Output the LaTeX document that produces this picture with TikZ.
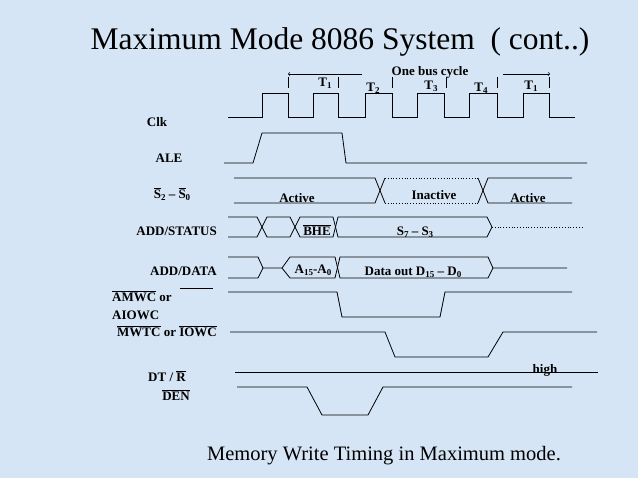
\documentclass[tikz,border=0pt]{standalone}
\usepackage{fontspec}
\setmainfont{Liberation Serif}
\definecolor{bg}{RGB}{214,229,245}
\tikzset{sig/.style={line width=0.8pt,black},
 lab/.style={font=\bfseries\fontsize{13}{14}\selectfont,inner sep=0pt},
 dots/.style={line width=0.8pt,dotted}}
\newcommand{\ovl}[1]{$\overline{\mbox{#1}}$}
\newcommand{\sub}[1]{\raisebox{-0.35ex}{\fontsize{9}{9}\selectfont #1}}
\begin{document}
\begin{tikzpicture}[x=1pt,y=-1pt]
\fill[bg] (0,0) rectangle (638,478);
\useasboundingbox (0,0) rectangle (638,478);
\node[inner sep=0pt,font=\fontsize{31.5}{33}\selectfont] (title) at (340,42) {Maximum Mode 8086 System\ \ ( cont..)};
\node[inner sep=0pt,font=\fontsize{20.5}{24}\selectfont] (cap) at (384,456) {Memory Write Timing in Maximum mode.};
% clock
\draw[sig] (228,117)--(262,117)--(262,93)--(288,93)--(288,117)--(313,117)--(313,93)--(338,93)--(338,117)--(365,117)--(365,93)--(392,93)--(392,117)--(417,117)--(417,93)--(444,93)--(444,117)--(469,117)--(469,93)--(497,93)--(497,117)--(523,117)--(523,93)--(549,93)--(549,117)--(575,117);
\foreach \x in {288,338,392,446,497,549}{\draw[line width=0.6pt] (\x,77)--(\x,88);}
\node[lab] (t1) at (325,83) {T\sub{1}};
\node[lab] (t2) at (373,88) {T\sub{2}};
\node[lab] (t3) at (431,86) {T\sub{3}};
\node[lab] (t4) at (481,88) {T\sub{4}};
\node[lab] (t5) at (531,86) {T\sub{1}};
\node[lab] (obc) at (430,72) {One bus cycle};
\coordinate (al) at (288,74); \coordinate (ar) at (550,74);
\draw[->,line width=0.6pt] (362,74)--(al);
\draw[->,line width=0.6pt] (503,74)--(ar);
\node[lab] (clk) at (157,122) {Clk};
% ALE
\draw[sig] (224,163)--(253,163)--(262,133)--(342,133)--(346,163)--(587,163);
\node[lab] (ale) at (169,158) {ALE};
% S2-S0
\draw[sig] (234,178)--(375,178)--(385,203);
\draw[sig] (234,203)--(375,203)--(385,178);
\draw[sig] (478,178)--(488,203)--(572,203);
\draw[sig] (478,203)--(488,178)--(572,178);
\draw[dots] (385,178)--(478,178) (385,203)--(478,203);
\node[lab,anchor=south] (act1) at (297,203) {Active};
\node[lab,anchor=south] (inact) at (434,200) {Inactive};
\node[lab,anchor=south] (act2) at (528,203) {Active};
\node[lab] (sl) at (172,194) {\ovl{S}\sub{2} -- \ovl{S}\sub{0}};
% ADD/STATUS
\draw[sig] (228,217)--(257,217)--(267,237)--(290,237)--(300,217)--(333,217)--(338,237)--(487,237)--(492,227);
\draw[sig] (228,237)--(257,237)--(267,217)--(290,217)--(300,237)--(333,237)--(338,217)--(487,217)--(492,227);
\draw[dots] (492,227)--(583,227);
\node[lab] (bhe) at (317,230) {\ovl{BHE}};
\node[lab] (s73) at (415,232) {S\sub{7} -- S\sub{3}};
\node[lab,anchor=east] (as) at (217,231) {ADD/STATUS};
% ADD/DATA
\draw[sig] (228,257)--(258,257)--(263,268)--(282,268)--(290,257)--(335,257)--(340,278)--(488,278)--(493,268)--(567,268);
\draw[sig] (228,278)--(258,278)--(263,268);
\draw[sig] (282,268)--(290,278)--(335,278)--(340,257)--(488,257)--(493,268);
\node[lab] (a15) at (313,270) {A\sub{15}-A\sub{0}};
\node[lab] (dout) at (413,272) {Data out D\sub{15} -- D\sub{0}};
\node[lab,anchor=east] (ad) at (217,271) {ADD/DATA};
% AMWC
\draw[sig] (228,292)--(337,292)--(342,317)--(440,317)--(445,292)--(572,292);
\node[lab,anchor=west] (amwc) at (112,296) {\ovl{AMWC} or};
\node[lab,anchor=west] (aiowc) at (112,315) {AIOWC};
\draw[line width=0.6pt] (180,288)--(213,288);
% MWTC
\draw[sig] (230,332)--(385,332)--(395,357)--(488,357)--(503,332)--(597,332);
\node[lab,anchor=west] (mwtc) at (117,331) {\ovl{MWTC} or \ovl{IOWC}};
% DT/R
\draw[sig] (235,372)--(598,372);
\node[lab] (high) at (545,370) {high};
\node[lab] (dtr) at (167,376) {DT / \ovl{R}};
% DEN
\draw[sig] (237,387)--(307,387)--(322,415)--(368,415)--(383,387)--(572,387);
\node[lab] (den) at (176,395) {\ovl{DEN}};
\end{tikzpicture}
\end{document}
